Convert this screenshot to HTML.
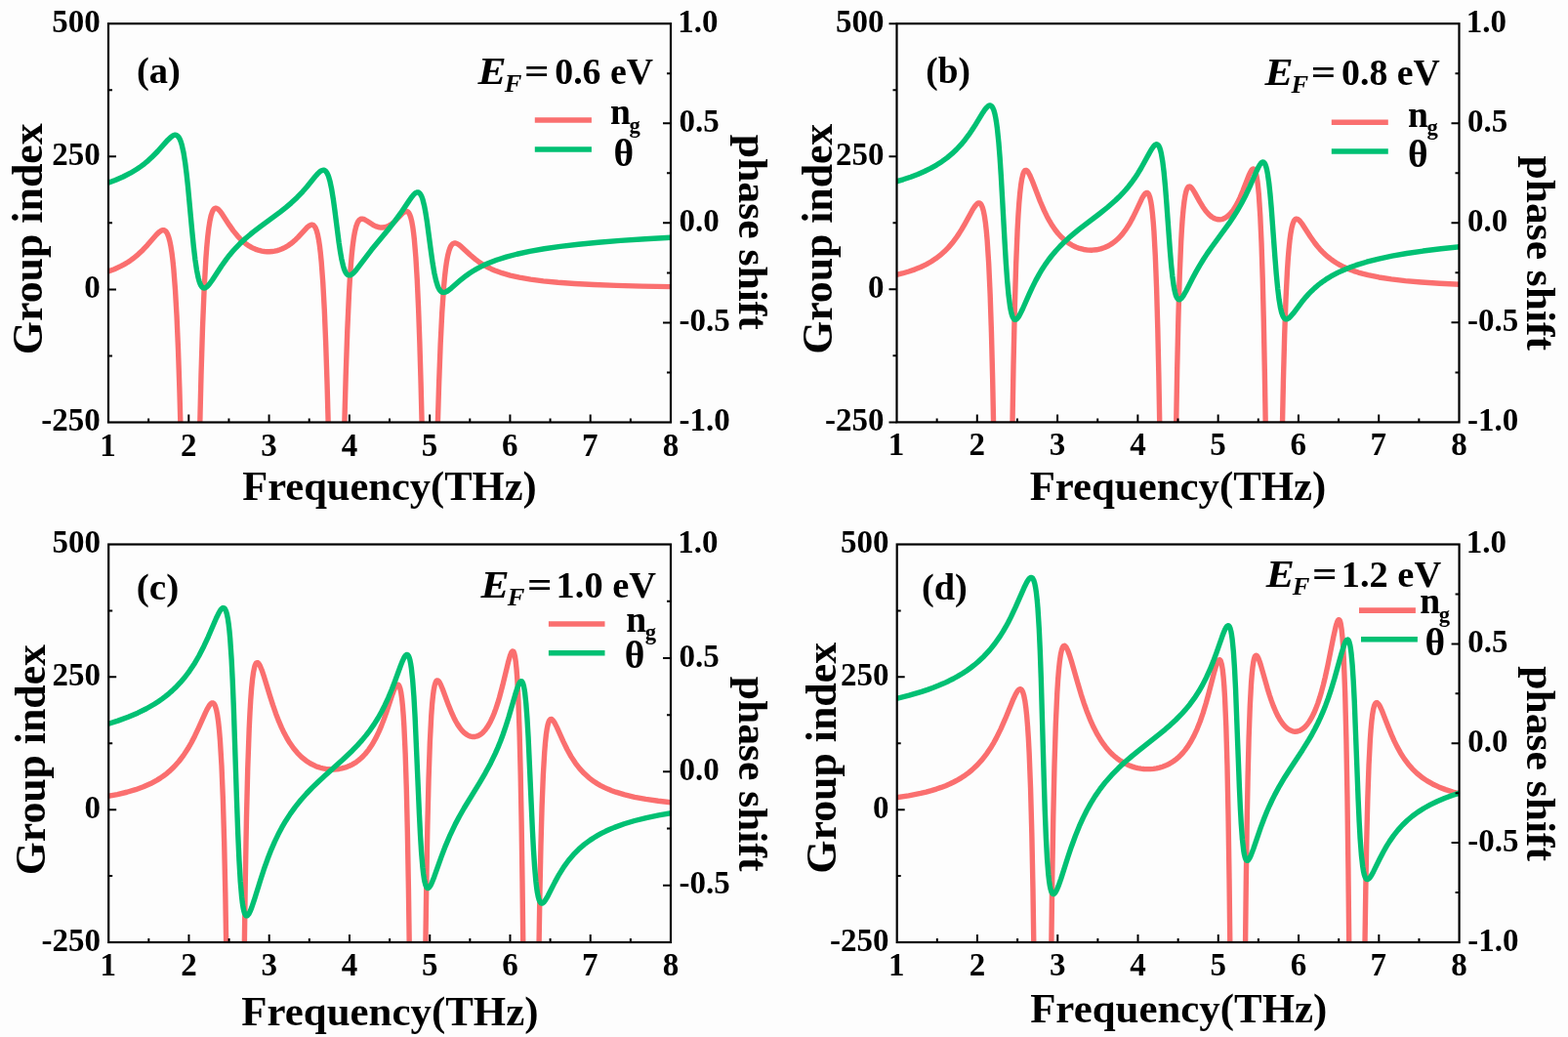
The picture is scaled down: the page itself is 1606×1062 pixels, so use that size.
<!DOCTYPE html>
<html><head><meta charset="utf-8"><title>Group index and phase shift</title>
<style>html,body{margin:0;padding:0;background:#fdfdfd;}svg{display:block;}</style></head>
<body>
<svg width="1606" height="1062" viewBox="0 0 1606 1062">
<rect x="0" y="0" width="1606" height="1062" fill="#fdfdfd"/>
<clipPath id="clipa"><rect x="111.0" y="24.2" width="576.0" height="408.3"/></clipPath>
<g clip-path="url(#clipa)" fill="none" stroke-linejoin="round" stroke-linecap="round" stroke-width="5.4">
<path d="M109.35,278.55 117.05,275.68 124.11,272.41 127.42,270.61 130.61,268.70 133.70,266.66 136.69,264.49 141.43,260.59 146.09,256.21 150.92,251.06 160.29,240.28 162.60,238.01 164.52,236.54 165.62,235.97 166.64,235.67 167.59,235.65 168.48,235.91 169.33,236.45 170.13,237.26 170.89,238.37 171.61,239.77 172.82,243.01 173.95,247.26 175.01,252.56 176.01,258.95 176.95,266.50 177.84,275.27 179.50,296.67 181.04,323.69 182.47,356.91 183.83,396.81 185.15,444.50 204.51,444.50 205.99,384.08 207.52,334.96 209.14,295.52 210.89,264.77 211.82,252.49 212.80,242.06 213.84,233.38 214.95,226.35 216.13,220.91 217.42,216.98 218.10,215.54 218.82,214.45 219.57,213.71 220.37,213.30 221.43,213.25 222.59,213.71 223.86,214.69 225.28,216.22 227.82,219.66 234.97,230.66 238.98,236.36 243.43,241.82 245.65,244.20 247.91,246.39 250.28,248.43 252.68,250.28 255.14,251.92 257.65,253.36 260.21,254.60 262.82,255.64 265.47,256.48 268.15,257.11 270.79,257.52 273.45,257.74 276.11,257.75 278.76,257.56 281.38,257.17 283.99,256.57 286.55,255.78 289.08,254.80 291.96,253.41 294.79,251.75 297.57,249.83 300.34,247.62 302.80,245.40 305.36,242.87 313.92,233.58 315.56,232.06 316.96,231.02 317.92,230.51 318.80,230.23 319.62,230.17 320.39,230.34 321.13,230.74 321.82,231.37 323.11,233.34 324.30,236.31 325.39,240.32 326.42,245.44 327.38,251.69 328.29,259.18 329.15,267.91 330.76,289.54 332.27,317.20 333.68,351.43 335.06,393.06 336.47,444.50 352.55,444.50 354.18,385.34 355.78,338.60 357.46,301.37 358.34,285.99 359.26,272.64 360.22,261.26 361.24,251.58 362.32,243.57 363.49,237.05 364.73,231.99 366.10,228.26 366.84,226.86 367.62,225.76 368.45,224.95 369.33,224.43 370.21,224.18 371.17,224.16 372.21,224.38 373.37,224.83 375.47,226.00 381.68,230.05 383.62,231.10 385.46,231.91 388.57,232.81 390.09,233.01 391.60,233.05 393.87,232.80 396.14,232.17 398.40,231.16 400.68,229.76 402.72,228.18 404.87,226.24 412.36,218.47 413.89,217.25 415.20,216.57 416.06,216.40 416.87,216.49 417.62,216.86 418.33,217.51 419.00,218.44 419.64,219.66 420.83,223.02 421.79,226.97 422.69,231.95 423.54,238.01 424.35,245.17 425.86,263.14 427.26,286.30 428.57,315.09 429.84,350.35 431.09,392.56 432.39,444.50 448.03,444.50 449.58,393.55 451.13,352.71 452.76,319.92 454.51,294.38 455.44,284.11 456.42,275.34 457.47,267.96 458.58,261.88 459.78,257.08 461.08,253.45 461.77,252.04 462.50,250.91 463.26,250.04 464.08,249.42 465.28,248.98 466.59,249.01 468.06,249.49 469.73,250.46 472.54,252.69 481.51,261.04 486.98,265.62 490.07,267.90 493.22,270.01 496.46,271.97 499.82,273.79 503.20,275.43 506.73,276.95 514.30,279.71 522.68,282.11 532.02,284.20 543.48,286.17 556.53,287.84 571.46,289.27 588.59,290.48 608.33,291.51 631.17,292.37 657.71,293.09 688.65,293.69" stroke="#fa6f6f"/>
<path d="M109.35,187.72 118.11,184.52 126.17,181.02 133.62,177.20 140.53,173.01 144.36,170.36 148.07,167.55 151.66,164.56 155.19,161.36 161.49,154.98 171.82,143.42 175.25,140.17 177.37,138.78 178.32,138.41 179.21,138.24 180.06,138.28 180.86,138.52 181.62,138.98 182.35,139.64 183.41,141.07 184.41,143.02 185.37,145.51 186.28,148.55 188.03,156.41 189.70,166.89 191.05,177.55 192.47,190.72 196.77,237.03 198.33,252.62 199.91,266.06 201.45,276.47 203.10,284.65 203.96,287.80 204.85,290.36 205.77,292.34 206.74,293.78 207.77,294.68 208.86,295.04 210.02,294.89 211.28,294.23 212.68,293.04 214.23,291.28 217.49,286.76 226.81,272.45 231.72,265.57 234.93,261.45 238.22,257.53 241.63,253.76 245.20,250.09 251.68,244.04 259.02,237.91 266.58,232.10 286.95,217.09 292.95,212.34 298.27,207.82 304.31,202.18 309.97,196.28 314.18,191.45 322.65,181.07 325.67,177.65 327.18,176.21 328.51,175.18 329.72,174.53 330.83,174.24 331.91,174.31 332.91,174.76 333.86,175.61 334.76,176.85 335.63,178.51 336.47,180.59 338.08,186.10 339.64,193.51 341.23,203.19 342.81,214.60 347.12,248.35 348.54,257.79 349.88,265.28 351.54,272.42 352.39,275.19 353.27,277.46 354.18,279.24 355.13,280.56 356.12,281.43 357.18,281.86 357.93,281.90 358.71,281.76 360.42,280.88 362.37,279.20 364.70,276.60 380.50,255.79 398.15,234.43 404.47,226.43 410.30,218.46 419.31,205.12 422.16,201.19 423.72,199.36 425.08,198.06 426.32,197.24 427.46,196.88 428.50,196.98 429.49,197.53 430.42,198.54 431.32,200.03 432.18,202.00 433.02,204.48 434.66,211.06 435.97,218.05 437.36,226.92 441.66,259.20 443.26,270.31 444.88,279.75 446.49,287.03 448.07,292.31 448.90,294.37 449.76,296.05 450.65,297.39 451.60,298.40 452.59,299.07 453.65,299.42 454.80,299.46 456.05,299.18 457.43,298.57 458.99,297.62 462.28,295.05 471.96,286.59 477.25,282.44 480.67,280.01 484.17,277.74 487.78,275.59 491.52,273.56 495.51,271.60 499.67,269.73 508.62,266.27 518.50,263.11 529.42,260.24 542.65,257.38 557.43,254.78 573.92,252.41 592.30,250.24 612.76,248.24 635.49,246.41 660.70,244.73 688.65,243.17" stroke="#00c073"/>
</g>
<path d="M152.14,432.5V428.5 M193.29,432.5V424.5 M234.43,432.5V428.5 M275.57,432.5V424.5 M316.71,432.5V428.5 M357.86,432.5V424.5 M399.00,432.5V428.5 M440.14,432.5V424.5 M481.29,432.5V428.5 M522.43,432.5V424.5 M563.57,432.5V428.5 M604.71,432.5V424.5 M645.86,432.5V428.5 M111.0,364.45H115.0 M111.0,296.40H119.0 M111.0,228.35H115.0 M111.0,160.30H119.0 M111.0,92.25H115.0 M687.0,381.46H683.0 M687.0,330.43H679.0 M687.0,279.39H683.0 M687.0,228.35H679.0 M687.0,177.31H683.0 M687.0,126.28H679.0 M687.0,75.24H683.0" stroke="#000" stroke-width="2.0" fill="none"/>
<rect x="111.0" y="24.2" width="576.0" height="408.3" fill="none" stroke="#000" stroke-width="2.2"/>
<text x="53.26" y="33.00" font-size="33" font-family="Liberation Serif, Times New Roman, serif" font-weight="bold"  >500</text>
<text x="53.26" y="169.10" font-size="33" font-family="Liberation Serif, Times New Roman, serif" font-weight="bold"  >250</text>
<text x="86.26" y="305.20" font-size="33" font-family="Liberation Serif, Times New Roman, serif" font-weight="bold"  >0</text>
<text x="42.27" y="441.30" font-size="33" font-family="Liberation Serif, Times New Roman, serif" font-weight="bold"  >-250</text>
<text x="102.28" y="466.50" font-size="33" font-family="Liberation Serif, Times New Roman, serif" font-weight="bold"  >1</text>
<text x="185.05" y="466.50" font-size="33" font-family="Liberation Serif, Times New Roman, serif" font-weight="bold"  >2</text>
<text x="267.27" y="466.50" font-size="33" font-family="Liberation Serif, Times New Roman, serif" font-weight="bold"  >3</text>
<text x="349.69" y="466.50" font-size="33" font-family="Liberation Serif, Times New Roman, serif" font-weight="bold"  >4</text>
<text x="431.84" y="466.50" font-size="33" font-family="Liberation Serif, Times New Roman, serif" font-weight="bold"  >5</text>
<text x="514.10" y="466.50" font-size="33" font-family="Liberation Serif, Times New Roman, serif" font-weight="bold"  >6</text>
<text x="595.92" y="466.50" font-size="33" font-family="Liberation Serif, Times New Roman, serif" font-weight="bold"  >7</text>
<text x="678.75" y="466.50" font-size="33" font-family="Liberation Serif, Times New Roman, serif" font-weight="bold"  >8</text>
<text x="694.16" y="32.90" font-size="33" font-family="Liberation Serif, Times New Roman, serif" font-weight="bold"  >1.0</text>
<text x="695.54" y="134.97" font-size="33" font-family="Liberation Serif, Times New Roman, serif" font-weight="bold"  >0.5</text>
<text x="695.54" y="237.05" font-size="33" font-family="Liberation Serif, Times New Roman, serif" font-weight="bold"  >0.0</text>
<text x="695.59" y="339.12" font-size="33" font-family="Liberation Serif, Times New Roman, serif" font-weight="bold"  >-0.5</text>
<text x="695.59" y="441.20" font-size="33" font-family="Liberation Serif, Times New Roman, serif" font-weight="bold"  >-1.0</text>
<clipPath id="clipb"><rect x="918.5" y="24.2" width="576.0" height="408.2"/></clipPath>
<g clip-path="url(#clipb)" fill="none" stroke-linejoin="round" stroke-linecap="round" stroke-width="5.4">
<path d="M916.85,281.76 924.16,279.98 930.93,278.01 937.21,275.85 943.06,273.47 948.52,270.86 953.62,268.00 958.42,264.86 962.93,261.43 967.29,257.59 971.44,253.38 975.40,248.77 979.24,243.69 982.18,239.36 985.14,234.60 988.48,228.81 995.68,215.69 997.59,212.58 999.20,210.35 1000.92,208.62 1001.70,208.15 1002.43,207.94 1003.13,207.98 1003.79,208.29 1004.42,208.84 1005.02,209.66 1006.24,212.33 1007.36,216.26 1008.39,221.51 1009.36,228.15 1010.27,236.23 1011.12,245.87 1012.69,269.92 1014.13,301.15 1015.44,340.17 1016.65,387.43 1017.79,444.40 1036.79,444.40 1037.98,374.90 1039.24,317.83 1040.61,271.61 1042.11,235.32 1042.90,220.81 1043.75,208.39 1044.65,198.07 1045.61,189.72 1046.63,183.27 1047.73,178.60 1048.32,176.92 1048.93,175.67 1049.57,174.83 1050.25,174.40 1050.71,174.35 1051.19,174.46 1052.21,175.23 1053.33,176.71 1054.58,178.95 1057.42,185.49 1065.40,206.24 1069.58,215.91 1072.27,221.44 1075.00,226.46 1077.79,231.04 1080.65,235.20 1083.84,239.22 1087.15,242.81 1090.60,245.98 1094.19,248.72 1097.94,251.06 1101.83,252.97 1105.84,254.44 1109.94,255.48 1114.29,256.08 1118.66,256.18 1122.99,255.79 1127.24,254.90 1131.35,253.53 1135.31,251.69 1139.11,249.39 1142.75,246.62 1146.16,243.45 1149.43,239.82 1152.59,235.71 1155.66,231.06 1158.01,227.07 1160.39,222.63 1163.09,217.16 1168.99,204.60 1170.56,201.61 1171.89,199.49 1173.29,197.91 1173.93,197.50 1174.53,197.34 1175.10,197.42 1175.64,197.74 1176.16,198.32 1176.66,199.15 1177.70,201.93 1178.67,206.04 1179.56,211.53 1180.39,218.45 1181.18,226.88 1181.93,236.91 1183.31,262.05 1184.58,294.77 1185.76,335.45 1186.87,384.91 1187.94,444.40 1204.51,444.40 1205.68,378.72 1206.91,325.02 1208.22,281.71 1209.65,248.00 1210.41,234.59 1211.22,223.15 1212.08,213.62 1213.00,205.86 1213.98,199.87 1215.04,195.46 1215.62,193.84 1216.21,192.60 1216.84,191.72 1217.51,191.20 1218.35,191.05 1219.27,191.39 1220.28,192.24 1221.41,193.61 1223.45,196.83 1228.87,206.64 1231.78,211.48 1234.95,215.98 1238.06,219.51 1239.69,221.00 1241.33,222.25 1242.97,223.25 1244.62,224.01 1246.27,224.52 1247.92,224.78 1249.57,224.80 1251.22,224.57 1253.00,224.04 1254.76,223.22 1256.51,222.10 1258.23,220.70 1259.94,219.02 1261.63,217.04 1263.30,214.78 1264.95,212.23 1267.56,207.56 1270.19,202.04 1273.03,195.28 1278.99,179.96 1280.54,176.56 1281.84,174.35 1282.48,173.59 1283.07,173.13 1283.64,172.95 1284.17,173.05 1284.69,173.45 1285.18,174.13 1286.10,176.38 1287.00,180.07 1287.84,185.15 1288.63,191.71 1289.38,199.78 1290.76,220.82 1292.02,248.70 1293.19,284.26 1294.29,328.09 1295.33,380.63 1296.36,444.40 1313.28,444.37 1314.46,388.59 1315.71,342.69 1317.06,305.48 1318.53,276.27 1319.32,264.53 1320.15,254.45 1321.04,245.95 1321.99,238.95 1323.00,233.41 1324.10,229.22 1325.29,226.32 1325.93,225.34 1326.61,224.66 1327.14,224.34 1327.70,224.19 1328.89,224.38 1330.21,225.22 1331.72,226.76 1334.28,230.22 1342.03,242.25 1346.61,248.76 1349.18,252.04 1351.78,255.07 1354.44,257.90 1357.17,260.54 1359.90,262.93 1362.73,265.17 1365.66,267.27 1368.73,269.24 1371.92,271.10 1375.27,272.84 1378.78,274.47 1382.46,276.00 1386.75,277.58 1391.28,279.05 1396.09,280.41 1401.18,281.68 1412.35,283.96 1425.00,285.91 1439.36,287.58 1455.76,289.00 1474.55,290.21 1496.15,291.24" stroke="#fa6f6f"/>
<path d="M916.85,186.20 925.11,183.79 932.84,181.21 940.07,178.46 946.85,175.53 953.20,172.39 959.15,169.03 964.75,165.44 970.01,161.60 975.01,157.45 979.74,152.99 984.25,148.18 988.59,142.97 991.97,138.47 995.36,133.56 999.02,127.84 1006.61,115.42 1008.56,112.53 1010.19,110.46 1011.88,108.83 1012.64,108.34 1013.36,108.06 1014.05,107.99 1014.70,108.14 1015.32,108.49 1015.92,109.05 1016.97,110.68 1017.94,113.08 1018.87,116.30 1019.74,120.34 1020.56,125.25 1021.36,131.07 1022.88,145.76 1024.08,160.91 1025.32,179.83 1029.01,246.70 1030.34,268.97 1031.70,287.86 1033.06,302.43 1034.49,313.46 1035.24,317.70 1036.03,321.14 1036.85,323.80 1037.73,325.72 1038.65,326.91 1039.14,327.24 1039.65,327.39 1040.19,327.35 1040.76,327.13 1041.97,326.12 1043.32,324.32 1044.85,321.68 1047.49,316.24 1053.83,301.86 1057.18,294.59 1060.77,287.40 1064.35,280.84 1067.41,275.72 1070.57,270.87 1073.86,266.23 1077.31,261.76 1081.37,256.96 1085.70,252.27 1090.35,247.66 1095.40,243.05 1100.28,238.89 1105.76,234.47 1126.02,219.00 1134.16,212.51 1142.42,205.29 1146.10,201.76 1149.55,198.21 1152.91,194.50 1156.11,190.69 1159.16,186.75 1162.10,182.64 1165.40,177.66 1168.68,172.25 1177.43,156.35 1179.75,152.42 1181.10,150.46 1182.29,149.06 1183.36,148.18 1184.34,147.78 1185.31,147.90 1186.22,148.57 1187.07,149.82 1187.88,151.65 1188.65,154.09 1189.38,157.16 1190.78,165.28 1192.13,176.20 1193.48,190.50 1194.81,207.40 1198.43,257.30 1199.62,271.23 1200.77,282.30 1202.20,292.83 1202.94,296.89 1203.71,300.22 1204.51,302.85 1205.35,304.79 1206.25,306.08 1207.20,306.73 1208.20,306.75 1209.29,306.18 1210.50,304.99 1211.85,303.15 1214.83,298.00 1221.58,284.80 1225.14,278.13 1228.75,271.81 1232.49,265.72 1236.31,259.88 1240.59,253.74 1258.73,228.91 1262.89,222.78 1266.63,216.88 1271.49,208.48 1276.06,199.64 1280.06,191.07 1286.76,175.75 1288.92,171.25 1290.18,169.02 1291.30,167.44 1292.31,166.43 1293.25,165.98 1293.75,165.98 1294.23,166.14 1295.14,167.01 1296.00,168.60 1296.81,170.92 1297.59,174.00 1298.35,177.88 1299.81,188.17 1300.97,199.10 1302.18,213.03 1305.90,263.69 1307.28,281.03 1308.70,295.72 1310.10,307.06 1311.50,315.27 1312.24,318.49 1313.01,321.15 1313.81,323.29 1314.66,324.92 1315.56,326.06 1316.52,326.72 1317.62,326.91 1318.82,326.59 1320.15,325.74 1321.67,324.34 1324.69,320.76 1333.30,309.31 1337.64,304.07 1340.51,300.90 1343.42,297.94 1346.41,295.14 1349.50,292.48 1352.63,289.99 1355.90,287.63 1359.29,285.37 1362.83,283.21 1370.38,279.16 1378.62,275.45 1383.53,273.52 1388.70,271.68 1399.83,268.24 1412.16,265.08 1425.79,262.18 1440.87,259.51 1457.52,257.05 1475.90,254.77 1496.15,252.66" stroke="#00c073"/>
</g>
<path d="M959.64,432.4V428.4 M1000.79,432.4V424.4 M1041.93,432.4V428.4 M1083.07,432.4V424.4 M1124.21,432.4V428.4 M1165.36,432.4V424.4 M1206.50,432.4V428.4 M1247.64,432.4V424.4 M1288.79,432.4V428.4 M1329.93,432.4V424.4 M1371.07,432.4V428.4 M1412.21,432.4V424.4 M1453.36,432.4V428.4 M918.5,432.40H910.5 M918.5,364.37H914.5 M918.5,296.33H910.5 M918.5,228.30H914.5 M918.5,160.27H910.5 M918.5,92.23H914.5 M918.5,24.20H910.5 M1494.5,381.38H1490.5 M1494.5,330.35H1486.5 M1494.5,279.32H1490.5 M1494.5,228.30H1486.5 M1494.5,177.27H1490.5 M1494.5,126.25H1486.5 M1494.5,75.22H1490.5" stroke="#000" stroke-width="2.0" fill="none"/>
<rect x="918.5" y="24.2" width="576.0" height="408.2" fill="none" stroke="#000" stroke-width="2.2"/>
<text x="855.96" y="33.00" font-size="33" font-family="Liberation Serif, Times New Roman, serif" font-weight="bold"  >500</text>
<text x="855.96" y="169.07" font-size="33" font-family="Liberation Serif, Times New Roman, serif" font-weight="bold"  >250</text>
<text x="888.96" y="305.13" font-size="33" font-family="Liberation Serif, Times New Roman, serif" font-weight="bold"  >0</text>
<text x="844.97" y="441.20" font-size="33" font-family="Liberation Serif, Times New Roman, serif" font-weight="bold"  >-250</text>
<text x="909.78" y="466.40" font-size="33" font-family="Liberation Serif, Times New Roman, serif" font-weight="bold"  >1</text>
<text x="992.55" y="466.40" font-size="33" font-family="Liberation Serif, Times New Roman, serif" font-weight="bold"  >2</text>
<text x="1074.77" y="466.40" font-size="33" font-family="Liberation Serif, Times New Roman, serif" font-weight="bold"  >3</text>
<text x="1157.19" y="466.40" font-size="33" font-family="Liberation Serif, Times New Roman, serif" font-weight="bold"  >4</text>
<text x="1239.34" y="466.40" font-size="33" font-family="Liberation Serif, Times New Roman, serif" font-weight="bold"  >5</text>
<text x="1321.60" y="466.40" font-size="33" font-family="Liberation Serif, Times New Roman, serif" font-weight="bold"  >6</text>
<text x="1403.42" y="466.40" font-size="33" font-family="Liberation Serif, Times New Roman, serif" font-weight="bold"  >7</text>
<text x="1486.25" y="466.40" font-size="33" font-family="Liberation Serif, Times New Roman, serif" font-weight="bold"  >8</text>
<text x="1501.66" y="32.90" font-size="33" font-family="Liberation Serif, Times New Roman, serif" font-weight="bold"  >1.0</text>
<text x="1503.04" y="134.95" font-size="33" font-family="Liberation Serif, Times New Roman, serif" font-weight="bold"  >0.5</text>
<text x="1503.04" y="237.00" font-size="33" font-family="Liberation Serif, Times New Roman, serif" font-weight="bold"  >0.0</text>
<text x="1503.09" y="339.05" font-size="33" font-family="Liberation Serif, Times New Roman, serif" font-weight="bold"  >-0.5</text>
<text x="1503.09" y="441.10" font-size="33" font-family="Liberation Serif, Times New Roman, serif" font-weight="bold"  >-1.0</text>
<clipPath id="clipc"><rect x="111.2" y="557.5" width="575.8" height="407.5"/></clipPath>
<g clip-path="url(#clipc)" fill="none" stroke-linejoin="round" stroke-linecap="round" stroke-width="5.4">
<path d="M109.55,815.57 120.26,813.54 129.96,811.25 138.79,808.67 146.84,805.77 154.22,802.51 160.99,798.85 164.18,796.87 167.24,794.76 170.19,792.55 173.04,790.20 178.30,785.25 183.24,779.75 187.91,773.64 192.37,766.84 195.89,760.73 199.41,753.96 203.10,746.16 210.64,729.35 212.56,725.51 214.17,722.79 215.66,720.91 216.35,720.32 216.99,719.98 217.61,719.86 218.20,719.98 218.76,720.33 219.30,720.91 219.93,721.93 220.53,723.31 221.67,727.18 222.71,732.55 223.68,739.46 224.59,748.03 225.44,758.35 226.99,784.40 228.39,818.63 229.65,861.58 230.80,913.93 231.85,977.00 250.20,977.00 251.29,900.67 252.47,837.57 253.76,786.41 255.20,746.31 255.97,730.22 256.78,716.44 257.65,704.98 258.58,695.66 259.58,688.45 260.65,683.26 261.22,681.39 261.82,680.00 262.44,679.07 263.10,678.62 263.62,678.58 264.16,678.80 264.73,679.29 265.32,680.06 266.61,682.41 268.06,685.94 270.60,693.43 276.46,712.59 279.44,721.89 282.59,730.91 285.69,738.93 288.37,745.12 291.10,750.80 293.90,756.02 296.80,760.80 300.63,766.26 304.65,771.08 308.89,775.31 313.35,778.93 318.06,781.98 322.99,784.42 325.54,785.41 328.13,786.25 330.75,786.92 333.41,787.44 336.22,787.81 339.04,788.00 341.85,788.00 344.65,787.83 347.42,787.47 350.16,786.94 352.84,786.23 355.47,785.34 358.02,784.29 360.50,783.07 362.92,781.68 365.27,780.13 367.55,778.41 369.76,776.52 371.90,774.47 373.98,772.25 377.75,767.57 381.33,762.23 384.75,756.20 388.05,749.41 390.62,743.37 393.22,736.63 396.00,728.73 401.85,711.20 403.38,707.12 404.66,704.23 405.88,702.18 406.44,701.56 406.97,701.21 407.47,701.12 407.96,701.30 408.42,701.73 408.86,702.43 409.85,705.16 410.76,709.43 411.61,715.33 412.40,722.89 413.14,732.23 413.84,743.36 415.14,771.52 416.32,808.30 417.40,854.19 418.41,910.02 419.36,977.00 435.76,977.00 436.78,904.70 437.86,845.86 439.04,798.11 440.33,760.67 441.75,732.86 442.53,722.11 443.36,713.42 444.25,706.67 445.22,701.72 446.27,698.51 446.83,697.55 447.43,696.99 447.83,696.84 448.25,696.87 449.14,697.45 450.12,698.72 451.21,700.72 453.23,705.45 459.38,722.08 462.92,730.71 464.89,734.96 466.85,738.75 468.82,742.12 470.81,745.08 472.98,747.82 475.18,750.10 477.41,751.93 479.65,753.28 481.92,754.16 484.19,754.57 486.46,754.50 488.70,753.95 490.77,753.02 492.81,751.67 494.81,749.92 496.77,747.77 498.68,745.22 500.55,742.28 502.38,738.93 504.17,735.19 506.02,730.78 507.84,725.88 509.65,720.47 511.45,714.50 514.70,702.31 520.44,678.61 522.54,671.31 523.77,668.31 524.32,667.44 524.85,666.97 525.35,666.90 525.82,667.23 526.28,667.97 526.71,669.11 527.53,672.66 528.30,677.94 529.02,685.01 529.70,693.89 530.95,717.58 532.08,749.60 533.13,790.84 534.10,841.86 535.01,903.55 535.89,977.00 551.89,977.00 552.88,916.77 553.93,866.89 555.08,826.23 556.34,794.21 557.74,770.11 558.50,760.72 559.31,752.97 560.19,746.80 561.13,742.14 562.15,738.91 562.69,737.81 563.27,737.05 563.75,736.67 564.26,736.51 564.79,736.56 565.35,736.82 566.56,737.99 567.94,740.04 570.29,744.61 576.93,759.37 580.76,767.22 585.02,774.87 589.40,781.56 593.72,787.13 598.33,792.11 603.29,796.57 608.64,800.56 611.88,802.63 615.28,804.57 618.85,806.40 622.61,808.11 626.57,809.71 630.74,811.21 639.81,813.94 649.95,816.32 661.33,818.42 674.16,820.25 688.65,821.85" stroke="#fa6f6f"/>
<path d="M109.55,741.68 120.87,738.10 131.33,734.27 141.00,730.15 149.94,725.73 158.21,720.97 162.11,718.46 165.87,715.85 169.48,713.13 172.97,710.31 176.33,707.38 179.57,704.33 184.71,698.98 189.57,693.25 194.18,687.11 198.59,680.51 203.73,671.75 208.75,661.98 213.34,652.02 221.41,633.25 224.42,627.10 226.21,624.32 227.01,623.41 227.76,622.83 228.47,622.55 229.13,622.58 229.77,622.92 230.37,623.58 231.42,625.64 232.40,628.84 233.30,633.21 234.14,638.81 234.94,645.69 235.69,653.98 237.11,674.92 238.20,696.84 239.31,724.33 242.56,821.99 243.74,854.45 244.97,881.74 246.21,902.67 247.54,918.26 248.24,924.25 248.99,929.13 249.78,932.89 250.62,935.59 251.52,937.26 252.00,937.71 252.50,937.92 253.02,937.87 253.58,937.56 254.77,936.13 256.11,933.60 257.62,929.88 260.23,922.23 266.77,901.22 270.27,890.47 274.06,879.78 277.85,870.09 281.31,862.09 284.91,854.57 288.67,847.44 292.63,840.66 297.36,833.36 302.44,826.34 307.93,819.51 313.93,812.75 319.80,806.67 326.42,800.27 333.17,794.06 351.02,778.07 360.85,768.70 366.01,763.36 370.72,758.12 375.08,752.87 379.14,747.54 383.25,741.61 387.10,735.46 390.74,729.02 394.22,722.21 397.74,714.58 401.23,706.23 404.40,697.96 410.15,682.23 412.32,676.80 413.56,674.12 414.67,672.20 415.67,670.98 416.58,670.44 417.06,670.42 417.52,670.62 418.38,671.63 419.19,673.49 419.96,676.24 420.68,679.90 421.37,684.51 422.67,696.68 423.90,713.08 425.11,734.52 429.50,834.98 430.57,855.90 431.60,872.48 432.92,888.28 433.61,894.38 434.33,899.42 435.08,903.38 435.88,906.34 436.72,908.32 437.17,908.95 437.64,909.35 438.13,909.52 438.65,909.45 439.19,909.13 439.76,908.58 440.99,906.74 442.40,903.84 444.74,897.93 451.87,877.86 456.17,866.58 461.05,855.06 466.26,844.13 470.56,835.98 475.40,827.47 491.39,801.31 497.10,791.58 502.58,781.41 507.41,771.40 510.04,765.38 512.55,759.19 514.97,752.74 517.33,745.97 520.99,734.49 527.70,711.40 530.02,704.12 531.05,701.43 531.98,699.49 532.83,698.25 533.62,697.68 534.01,697.65 534.39,697.81 535.12,698.69 535.81,700.34 536.46,702.75 537.08,705.96 537.68,710.00 538.82,720.72 539.94,735.48 541.07,754.84 545.41,850.64 546.50,871.17 547.57,887.50 548.92,902.97 549.63,909.01 550.38,914.04 551.17,918.05 552.00,921.12 552.90,923.30 553.87,924.61 554.37,924.93 554.89,925.06 555.43,925.00 556.01,924.75 557.27,923.64 558.71,921.71 561.12,917.55 568.33,903.36 572.62,895.56 577.44,887.86 582.45,880.97 587.39,875.15 592.67,869.81 598.34,864.90 604.45,860.38 608.15,857.96 612.01,855.65 616.06,853.44 620.29,851.33 624.71,849.31 629.33,847.38 639.22,843.78 650.04,840.50 661.83,837.52 674.68,834.82 688.65,832.39" stroke="#00c073"/>
</g>
<path d="M152.33,965.0V961.0 M193.46,965.0V957.0 M234.59,965.0V961.0 M275.71,965.0V957.0 M316.84,965.0V961.0 M357.97,965.0V957.0 M399.10,965.0V961.0 M440.23,965.0V957.0 M481.36,965.0V961.0 M522.49,965.0V957.0 M563.61,965.0V961.0 M604.74,965.0V957.0 M645.87,965.0V961.0 M111.2,897.08H115.2 M111.2,829.17H119.2 M111.2,761.25H115.2 M111.2,693.33H119.2 M111.2,625.42H115.2 M687.0,906.79H679.0 M687.0,848.57H683.0 M687.0,790.36H679.0 M687.0,732.14H683.0 M687.0,673.93H679.0 M687.0,615.71H683.0" stroke="#000" stroke-width="2.0" fill="none"/>
<rect x="111.2" y="557.5" width="575.8" height="407.5" fill="none" stroke="#000" stroke-width="2.2"/>
<text x="53.46" y="566.30" font-size="33" font-family="Liberation Serif, Times New Roman, serif" font-weight="bold"  >500</text>
<text x="53.46" y="702.13" font-size="33" font-family="Liberation Serif, Times New Roman, serif" font-weight="bold"  >250</text>
<text x="86.46" y="837.97" font-size="33" font-family="Liberation Serif, Times New Roman, serif" font-weight="bold"  >0</text>
<text x="42.47" y="973.80" font-size="33" font-family="Liberation Serif, Times New Roman, serif" font-weight="bold"  >-250</text>
<text x="102.48" y="999.00" font-size="33" font-family="Liberation Serif, Times New Roman, serif" font-weight="bold"  >1</text>
<text x="185.22" y="999.00" font-size="33" font-family="Liberation Serif, Times New Roman, serif" font-weight="bold"  >2</text>
<text x="267.41" y="999.00" font-size="33" font-family="Liberation Serif, Times New Roman, serif" font-weight="bold"  >3</text>
<text x="349.80" y="999.00" font-size="33" font-family="Liberation Serif, Times New Roman, serif" font-weight="bold"  >4</text>
<text x="431.92" y="999.00" font-size="33" font-family="Liberation Serif, Times New Roman, serif" font-weight="bold"  >5</text>
<text x="514.16" y="999.00" font-size="33" font-family="Liberation Serif, Times New Roman, serif" font-weight="bold"  >6</text>
<text x="595.95" y="999.00" font-size="33" font-family="Liberation Serif, Times New Roman, serif" font-weight="bold"  >7</text>
<text x="678.75" y="999.00" font-size="33" font-family="Liberation Serif, Times New Roman, serif" font-weight="bold"  >8</text>
<text x="694.16" y="566.20" font-size="33" font-family="Liberation Serif, Times New Roman, serif" font-weight="bold"  >1.0</text>
<text x="695.54" y="682.63" font-size="33" font-family="Liberation Serif, Times New Roman, serif" font-weight="bold"  >0.5</text>
<text x="695.54" y="799.06" font-size="33" font-family="Liberation Serif, Times New Roman, serif" font-weight="bold"  >0.0</text>
<text x="695.59" y="915.49" font-size="33" font-family="Liberation Serif, Times New Roman, serif" font-weight="bold"  >-0.5</text>
<clipPath id="clipd"><rect x="918.7" y="557.5" width="575.8999999999999" height="407.5"/></clipPath>
<g clip-path="url(#clipd)" fill="none" stroke-linejoin="round" stroke-linecap="round" stroke-width="5.4">
<path d="M917.05,817.00 930.74,814.87 943.00,812.42 948.65,811.07 954.01,809.62 959.10,808.07 963.93,806.41 968.54,804.65 972.93,802.76 977.11,800.75 981.10,798.62 984.92,796.34 988.56,793.92 992.06,791.35 995.41,788.62 1000.87,783.52 1005.99,777.87 1010.83,771.61 1015.42,764.69 1017.88,760.53 1020.30,756.13 1025.11,746.40 1029.49,736.41 1037.36,717.20 1040.32,710.81 1042.06,707.91 1042.85,706.91 1043.58,706.22 1044.28,705.81 1044.94,705.69 1045.58,705.85 1046.18,706.29 1046.85,707.17 1047.48,708.44 1048.66,712.15 1049.75,717.49 1050.76,724.53 1051.69,733.35 1052.56,744.03 1053.38,756.70 1054.15,771.35 1055.56,807.51 1056.82,853.18 1057.95,909.23 1058.97,976.98 1076.72,977.00 1077.70,900.46 1078.78,836.44 1079.97,783.90 1081.30,741.74 1082.78,709.34 1083.59,696.48 1084.45,685.77 1085.38,677.07 1086.36,670.34 1087.43,665.51 1087.99,663.77 1088.58,662.50 1089.14,661.74 1089.71,661.33 1090.31,661.29 1090.94,661.60 1091.60,662.27 1092.30,663.30 1093.82,666.48 1095.38,670.71 1097.23,676.54 1104.13,700.58 1107.27,711.05 1110.11,719.78 1112.90,727.68 1116.52,736.84 1120.23,745.05 1124.10,752.44 1128.14,759.04 1130.35,762.22 1132.61,765.19 1134.94,767.98 1137.33,770.58 1139.80,773.00 1142.34,775.23 1144.95,777.29 1147.64,779.16 1150.42,780.86 1153.27,782.39 1156.20,783.72 1159.19,784.86 1162.23,785.82 1165.33,786.58 1168.46,787.14 1171.61,787.50 1174.88,787.66 1178.14,787.61 1181.37,787.33 1184.55,786.84 1187.67,786.13 1190.72,785.21 1193.69,784.09 1196.57,782.76 1199.33,781.24 1202.00,779.52 1204.59,777.60 1207.08,775.47 1209.48,773.15 1211.80,770.63 1214.04,767.89 1216.21,764.94 1219.68,759.50 1222.97,753.39 1226.11,746.59 1229.13,739.00 1232.21,730.11 1235.28,720.02 1238.10,709.74 1243.32,689.61 1245.35,682.56 1246.51,679.24 1247.55,677.04 1248.48,675.88 1248.92,675.68 1249.34,675.74 1249.87,676.21 1250.38,677.15 1251.34,680.44 1252.22,685.65 1253.03,692.89 1253.79,702.25 1254.50,713.80 1255.80,743.84 1256.98,784.28 1258.04,835.99 1259.02,899.79 1259.93,977.00 1275.45,977.00 1276.28,905.05 1277.15,845.38 1278.10,795.64 1279.13,755.27 1280.27,723.72 1281.52,700.18 1282.21,691.18 1282.94,683.93 1283.73,678.36 1284.57,674.43 1285.04,673.02 1285.52,672.01 1286.04,671.42 1286.57,671.23 1287.14,671.46 1287.74,672.09 1289.07,674.60 1290.12,677.37 1291.34,681.12 1298.17,705.10 1300.23,711.76 1302.22,717.65 1304.49,723.68 1306.77,729.02 1309.09,733.71 1311.46,737.78 1313.84,741.19 1316.27,743.99 1318.75,746.21 1321.26,747.82 1323.82,748.82 1326.38,749.21 1328.94,748.97 1331.49,748.12 1333.98,746.67 1336.43,744.62 1338.82,741.98 1341.15,738.75 1343.41,734.95 1345.61,730.58 1347.74,725.63 1349.82,720.08 1351.70,714.41 1353.55,708.17 1355.38,701.35 1357.21,693.85 1359.99,681.24 1365.78,652.25 1367.94,642.57 1368.91,639.06 1369.77,636.61 1370.57,635.15 1370.95,634.78 1371.31,634.66 1371.84,634.93 1372.34,635.75 1372.82,637.13 1373.27,639.08 1374.14,644.67 1374.94,652.65 1375.69,663.15 1376.39,676.15 1377.69,710.34 1378.87,756.70 1379.94,815.77 1380.92,888.58 1381.85,977.00 1397.84,977.00 1398.77,913.16 1399.76,860.66 1400.84,817.53 1402.04,783.33 1403.37,757.39 1404.10,747.14 1404.88,738.63 1405.71,731.79 1406.60,726.54 1407.58,722.78 1408.09,721.45 1408.63,720.48 1409.09,719.95 1409.57,719.65 1410.06,719.57 1410.58,719.71 1411.71,720.68 1412.97,722.57 1414.31,725.22 1415.91,728.92 1422.15,744.99 1425.18,752.39 1428.05,758.82 1430.91,764.64 1434.54,771.18 1438.33,777.10 1442.32,782.46 1446.56,787.33 1451.21,791.85 1456.19,795.93 1461.57,799.61 1467.39,802.94 1473.69,805.93 1480.56,808.62 1488.05,811.04 1496.25,813.21" stroke="#fa6f6f"/>
<path d="M917.05,715.66 931.10,712.16 943.97,708.38 949.99,706.37 955.77,704.28 961.30,702.10 966.60,699.83 971.68,697.46 976.54,694.99 981.20,692.42 985.66,689.73 989.95,686.93 994.06,684.00 998.01,680.95 1001.81,677.75 1007.99,671.92 1013.79,665.62 1019.24,658.80 1024.42,651.40 1027.24,646.92 1030.00,642.20 1032.72,637.21 1035.44,631.89 1040.35,621.43 1048.82,602.05 1051.82,596.01 1053.59,593.25 1054.38,592.34 1055.12,591.73 1055.82,591.41 1056.47,591.39 1057.09,591.65 1057.69,592.22 1058.75,594.17 1059.73,597.29 1060.63,601.62 1061.46,607.21 1062.22,614.11 1062.95,622.46 1064.28,643.81 1065.30,666.34 1066.30,694.72 1069.20,796.34 1070.27,830.07 1071.40,858.30 1072.56,879.78 1073.83,895.68 1074.52,901.77 1075.24,906.69 1076.02,910.49 1076.86,913.24 1077.77,914.94 1078.25,915.41 1078.75,915.62 1079.29,915.58 1079.86,915.26 1081.08,913.83 1082.45,911.29 1084.01,907.55 1086.73,899.82 1093.62,878.29 1097.34,867.21 1101.37,856.20 1105.41,846.22 1109.17,837.85 1113.08,830.02 1117.17,822.64 1121.48,815.65 1126.78,808.00 1132.47,800.71 1138.64,793.67 1145.39,786.77 1152.05,780.57 1159.58,774.10 1167.27,767.86 1187.48,751.92 1193.35,747.08 1198.51,742.59 1204.29,737.23 1209.53,731.94 1214.35,726.61 1218.81,721.17 1223.41,714.90 1227.70,708.33 1231.71,701.39 1235.51,693.98 1239.17,685.94 1242.77,677.11 1246.01,668.36 1251.72,652.05 1253.74,646.79 1254.89,644.22 1255.91,642.39 1256.83,641.22 1257.67,640.70 1258.12,640.69 1258.56,640.89 1259.37,641.92 1260.13,643.80 1260.84,646.57 1261.51,650.26 1262.15,654.90 1263.34,667.17 1264.44,683.65 1265.53,705.23 1269.40,806.22 1270.35,827.23 1271.28,843.91 1272.46,859.77 1273.74,870.96 1274.43,874.97 1275.17,877.98 1275.95,880.02 1276.80,881.12 1277.26,881.33 1277.73,881.30 1278.23,881.03 1278.76,880.54 1279.89,878.83 1281.19,876.11 1283.77,869.34 1291.20,847.67 1295.02,837.44 1297.55,831.22 1300.15,825.27 1302.85,819.49 1305.68,813.84 1310.45,805.06 1315.87,795.98 1321.15,787.70 1334.01,768.17 1340.54,757.65 1343.77,752.04 1346.77,746.52 1349.57,740.99 1352.22,735.39 1355.06,728.90 1357.77,722.18 1360.37,715.14 1362.91,707.67 1366.87,694.79 1373.93,669.47 1376.34,661.63 1377.36,658.90 1378.28,656.93 1379.11,655.67 1379.89,655.09 1380.29,655.06 1380.68,655.24 1381.42,656.23 1382.12,658.07 1382.77,660.75 1383.39,664.32 1383.99,668.83 1385.11,680.76 1386.17,696.82 1387.23,717.87 1391.17,819.79 1392.16,841.51 1393.12,858.77 1394.37,875.35 1395.72,887.35 1396.45,891.81 1397.23,895.32 1398.07,897.91 1398.98,899.61 1399.45,900.13 1399.95,900.46 1400.47,900.57 1401.01,900.49 1402.20,899.73 1403.55,898.14 1404.93,895.97 1406.58,892.93 1413.30,879.29 1416.70,872.74 1419.98,866.93 1423.28,861.62 1427.44,855.63 1431.80,850.12 1436.42,845.01 1441.33,840.27 1446.63,835.79 1452.31,831.63 1458.39,827.74 1464.92,824.11 1471.93,820.72 1479.47,817.53 1487.56,814.55 1496.25,811.76" stroke="#00c073"/>
</g>
<path d="M959.84,965.0V961.0 M1000.97,965.0V957.0 M1042.11,965.0V961.0 M1083.24,965.0V957.0 M1124.38,965.0V961.0 M1165.51,965.0V957.0 M1206.65,965.0V961.0 M1247.79,965.0V957.0 M1288.92,965.0V961.0 M1330.06,965.0V957.0 M1371.19,965.0V961.0 M1412.33,965.0V957.0 M1453.46,965.0V961.0 M918.7,897.08H922.7 M918.7,829.17H926.7 M918.7,761.25H922.7 M918.7,693.33H926.7 M918.7,625.42H922.7 M1494.6,914.06H1490.6 M1494.6,863.12H1486.6 M1494.6,812.19H1490.6 M1494.6,761.25H1486.6 M1494.6,710.31H1490.6 M1494.6,659.38H1486.6 M1494.6,608.44H1490.6" stroke="#000" stroke-width="2.0" fill="none"/>
<rect x="918.7" y="557.5" width="575.8999999999999" height="407.5" fill="none" stroke="#000" stroke-width="2.2"/>
<text x="860.96" y="566.30" font-size="33" font-family="Liberation Serif, Times New Roman, serif" font-weight="bold"  >500</text>
<text x="860.96" y="702.13" font-size="33" font-family="Liberation Serif, Times New Roman, serif" font-weight="bold"  >250</text>
<text x="893.96" y="837.97" font-size="33" font-family="Liberation Serif, Times New Roman, serif" font-weight="bold"  >0</text>
<text x="849.97" y="973.80" font-size="33" font-family="Liberation Serif, Times New Roman, serif" font-weight="bold"  >-250</text>
<text x="909.98" y="999.00" font-size="33" font-family="Liberation Serif, Times New Roman, serif" font-weight="bold"  >1</text>
<text x="992.74" y="999.00" font-size="33" font-family="Liberation Serif, Times New Roman, serif" font-weight="bold"  >2</text>
<text x="1074.94" y="999.00" font-size="33" font-family="Liberation Serif, Times New Roman, serif" font-weight="bold"  >3</text>
<text x="1157.34" y="999.00" font-size="33" font-family="Liberation Serif, Times New Roman, serif" font-weight="bold"  >4</text>
<text x="1239.48" y="999.00" font-size="33" font-family="Liberation Serif, Times New Roman, serif" font-weight="bold"  >5</text>
<text x="1321.73" y="999.00" font-size="33" font-family="Liberation Serif, Times New Roman, serif" font-weight="bold"  >6</text>
<text x="1403.54" y="999.00" font-size="33" font-family="Liberation Serif, Times New Roman, serif" font-weight="bold"  >7</text>
<text x="1486.35" y="999.00" font-size="33" font-family="Liberation Serif, Times New Roman, serif" font-weight="bold"  >8</text>
<text x="1501.76" y="566.20" font-size="33" font-family="Liberation Serif, Times New Roman, serif" font-weight="bold"  >1.0</text>
<text x="1503.14" y="668.08" font-size="33" font-family="Liberation Serif, Times New Roman, serif" font-weight="bold"  >0.5</text>
<text x="1503.14" y="769.95" font-size="33" font-family="Liberation Serif, Times New Roman, serif" font-weight="bold"  >0.0</text>
<text x="1503.19" y="871.83" font-size="33" font-family="Liberation Serif, Times New Roman, serif" font-weight="bold"  >-0.5</text>
<text x="1503.19" y="973.70" font-size="33" font-family="Liberation Serif, Times New Roman, serif" font-weight="bold"  >-1.0</text>
<text x="248.28" y="511.80" font-size="42.4" font-family="Liberation Serif, Times New Roman, serif" font-weight="bold"  textLength="301.39" lengthAdjust="spacingAndGlyphs" >Frequency(THz)</text>
<text transform="translate(43.20,363.13) rotate(-90)" x="0" y="0" font-size="45" font-family="Liberation Serif, Times New Roman, serif" font-weight="bold" textLength="236.87" lengthAdjust="spacingAndGlyphs">Group index</text>
<text transform="translate(757.20,137.75) rotate(90)" x="0" y="0" font-size="43" font-family="Liberation Serif, Times New Roman, serif" font-weight="bold" textLength="200.15" lengthAdjust="spacingAndGlyphs">phase shift</text>
<text x="139.90" y="84.50" font-size="37.5" font-family="Liberation Serif, Times New Roman, serif" font-weight="bold"  textLength="44.99" lengthAdjust="spacingAndGlyphs" >(a)</text>
<text x="489.62" y="85.80" font-size="39" font-family="Liberation Serif, Times New Roman, serif" font-weight="bold" font-style="italic" textLength="29.06" lengthAdjust="spacingAndGlyphs" >E</text>
<text x="516.73" y="93.90" font-size="24.7" font-family="Liberation Serif, Times New Roman, serif" font-weight="bold" font-style="italic" textLength="17.61" lengthAdjust="spacingAndGlyphs" >F</text>
<text x="536.97" y="85.80" font-size="38" font-family="Liberation Serif, Times New Roman, serif" font-weight="bold"  textLength="25.50" lengthAdjust="spacingAndGlyphs" >=</text>
<text x="568.26" y="85.80" font-size="38" font-family="Liberation Serif, Times New Roman, serif" font-weight="bold"  textLength="100.76" lengthAdjust="spacingAndGlyphs" >0.6 eV</text>
<path d="M547.8,123.0H605.9" stroke="#fa6f6f" stroke-width="5.6"/>
<path d="M547.8,153.0H605.9" stroke="#00c073" stroke-width="5.6"/>
<text x="624.99" y="127.20" font-size="37.6" font-family="Liberation Serif, Times New Roman, serif" font-weight="bold"  >n</text>
<text x="644.50" y="135.60" font-size="22.6" font-family="Liberation Serif, Times New Roman, serif" font-weight="bold"  >g</text>
<text x="628.56" y="169.90" font-size="39.5" font-family="Liberation Serif, Times New Roman, serif" font-weight="bold"  >θ</text>
<text x="1054.67" y="512.10" font-size="42.4" font-family="Liberation Serif, Times New Roman, serif" font-weight="bold"  textLength="303.61" lengthAdjust="spacingAndGlyphs" >Frequency(THz)</text>
<text transform="translate(852.30,362.83) rotate(-90)" x="0" y="0" font-size="45" font-family="Liberation Serif, Times New Roman, serif" font-weight="bold" textLength="236.06" lengthAdjust="spacingAndGlyphs">Group index</text>
<text transform="translate(1564.00,159.55) rotate(90)" x="0" y="0" font-size="43" font-family="Liberation Serif, Times New Roman, serif" font-weight="bold" textLength="199.54" lengthAdjust="spacingAndGlyphs">phase shift</text>
<text x="948.36" y="85.00" font-size="37.5" font-family="Liberation Serif, Times New Roman, serif" font-weight="bold"  textLength="45.58" lengthAdjust="spacingAndGlyphs" >(b)</text>
<text x="1295.42" y="87.00" font-size="39" font-family="Liberation Serif, Times New Roman, serif" font-weight="bold" font-style="italic" textLength="29.06" lengthAdjust="spacingAndGlyphs" >E</text>
<text x="1322.53" y="95.10" font-size="24.7" font-family="Liberation Serif, Times New Roman, serif" font-weight="bold" font-style="italic" textLength="17.61" lengthAdjust="spacingAndGlyphs" >F</text>
<text x="1342.77" y="87.00" font-size="38" font-family="Liberation Serif, Times New Roman, serif" font-weight="bold"  textLength="25.50" lengthAdjust="spacingAndGlyphs" >=</text>
<text x="1374.06" y="87.00" font-size="38" font-family="Liberation Serif, Times New Roman, serif" font-weight="bold"  textLength="100.76" lengthAdjust="spacingAndGlyphs" >0.8 eV</text>
<path d="M1363.8,125.3H1421.8" stroke="#fa6f6f" stroke-width="5.6"/>
<path d="M1363.8,155.0H1421.8" stroke="#00c073" stroke-width="5.6"/>
<text x="1441.99" y="129.50" font-size="37.6" font-family="Liberation Serif, Times New Roman, serif" font-weight="bold"  >n</text>
<text x="1461.50" y="137.90" font-size="22.6" font-family="Liberation Serif, Times New Roman, serif" font-weight="bold"  >g</text>
<text x="1442.06" y="170.80" font-size="39.5" font-family="Liberation Serif, Times New Roman, serif" font-weight="bold"  >θ</text>
<text x="247.27" y="1049.70" font-size="42.4" font-family="Liberation Serif, Times New Roman, serif" font-weight="bold"  textLength="304.21" lengthAdjust="spacingAndGlyphs" >Frequency(THz)</text>
<text transform="translate(45.70,896.23) rotate(-90)" x="0" y="0" font-size="45" font-family="Liberation Serif, Times New Roman, serif" font-weight="bold" textLength="236.16" lengthAdjust="spacingAndGlyphs">Group index</text>
<text transform="translate(756.60,692.65) rotate(90)" x="0" y="0" font-size="43" font-family="Liberation Serif, Times New Roman, serif" font-weight="bold" textLength="199.84" lengthAdjust="spacingAndGlyphs">phase shift</text>
<text x="139.68" y="614.10" font-size="37.5" font-family="Liberation Serif, Times New Roman, serif" font-weight="bold"  textLength="43.55" lengthAdjust="spacingAndGlyphs" >(c)</text>
<text x="492.62" y="611.70" font-size="39" font-family="Liberation Serif, Times New Roman, serif" font-weight="bold" font-style="italic" textLength="29.06" lengthAdjust="spacingAndGlyphs" >E</text>
<text x="519.73" y="619.80" font-size="24.7" font-family="Liberation Serif, Times New Roman, serif" font-weight="bold" font-style="italic" textLength="17.61" lengthAdjust="spacingAndGlyphs" >F</text>
<text x="539.97" y="611.70" font-size="38" font-family="Liberation Serif, Times New Roman, serif" font-weight="bold"  textLength="25.50" lengthAdjust="spacingAndGlyphs" >=</text>
<text x="569.62" y="611.70" font-size="38" font-family="Liberation Serif, Times New Roman, serif" font-weight="bold"  textLength="102.41" lengthAdjust="spacingAndGlyphs" >1.0 eV</text>
<path d="M561.9,639.0H619.5" stroke="#fa6f6f" stroke-width="5.6"/>
<path d="M561.9,668.8H619.5" stroke="#00c073" stroke-width="5.6"/>
<text x="641.29" y="646.90" font-size="37.6" font-family="Liberation Serif, Times New Roman, serif" font-weight="bold"  >n</text>
<text x="660.80" y="655.30" font-size="22.6" font-family="Liberation Serif, Times New Roman, serif" font-weight="bold"  >g</text>
<text x="639.76" y="683.50" font-size="39.5" font-family="Liberation Serif, Times New Roman, serif" font-weight="bold"  >θ</text>
<text x="1055.17" y="1047.00" font-size="42.4" font-family="Liberation Serif, Times New Roman, serif" font-weight="bold"  textLength="304.21" lengthAdjust="spacingAndGlyphs" >Frequency(THz)</text>
<text transform="translate(856.40,894.63) rotate(-90)" x="0" y="0" font-size="45" font-family="Liberation Serif, Times New Roman, serif" font-weight="bold" textLength="236.77" lengthAdjust="spacingAndGlyphs">Group index</text>
<text transform="translate(1564.00,682.25) rotate(90)" x="0" y="0" font-size="43" font-family="Liberation Serif, Times New Roman, serif" font-weight="bold" textLength="199.84" lengthAdjust="spacingAndGlyphs">phase shift</text>
<text x="943.91" y="614.10" font-size="37.5" font-family="Liberation Serif, Times New Roman, serif" font-weight="bold"  textLength="46.87" lengthAdjust="spacingAndGlyphs" >(d)</text>
<text x="1296.72" y="600.80" font-size="39" font-family="Liberation Serif, Times New Roman, serif" font-weight="bold" font-style="italic" textLength="29.06" lengthAdjust="spacingAndGlyphs" >E</text>
<text x="1323.83" y="608.90" font-size="24.7" font-family="Liberation Serif, Times New Roman, serif" font-weight="bold" font-style="italic" textLength="17.61" lengthAdjust="spacingAndGlyphs" >F</text>
<text x="1344.07" y="600.80" font-size="38" font-family="Liberation Serif, Times New Roman, serif" font-weight="bold"  textLength="25.50" lengthAdjust="spacingAndGlyphs" >=</text>
<text x="1373.72" y="600.80" font-size="38" font-family="Liberation Serif, Times New Roman, serif" font-weight="bold"  textLength="102.41" lengthAdjust="spacingAndGlyphs" >1.2 eV</text>
<path d="M1392.0,625.1H1449.9" stroke="#fa6f6f" stroke-width="5.6"/>
<path d="M1394.0,654.7H1451.9" stroke="#00c073" stroke-width="5.6"/>
<text x="1454.29" y="628.20" font-size="37.6" font-family="Liberation Serif, Times New Roman, serif" font-weight="bold"  >n</text>
<text x="1473.80" y="636.60" font-size="22.6" font-family="Liberation Serif, Times New Roman, serif" font-weight="bold"  >g</text>
<text x="1459.46" y="671.00" font-size="39.5" font-family="Liberation Serif, Times New Roman, serif" font-weight="bold"  >θ</text>
</svg>
</body></html>
